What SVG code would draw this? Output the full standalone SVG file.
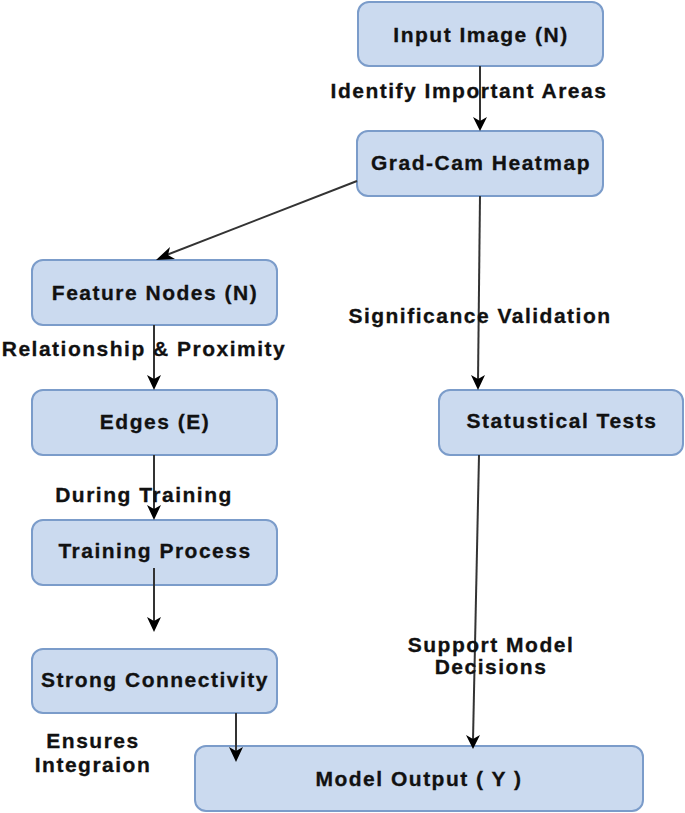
<svg xmlns="http://www.w3.org/2000/svg" width="685" height="813" viewBox="0 0 685 813">
<style>
.box{fill:#cbdaef;stroke:#7b9cca;stroke-width:2}
.t{font-family:"Liberation Sans",Arial,sans-serif;font-weight:bold;font-size:21px;letter-spacing:1.5px;fill:#111;stroke:#111;stroke-width:0.3;text-anchor:middle}
.l{stroke:#333;stroke-width:2;fill:none}
.h{fill:#000}
</style>
<rect width="685" height="813" fill="#fff"/>
<g id="input"><rect class="box" x="358" y="2" width="245" height="64" rx="11"/><text class="t" x="481" y="42">Input Image (N)</text></g>
<g id="gradcam"><rect class="box" x="357" y="131" width="246" height="65" rx="11"/><text class="t" x="481" y="170">Grad-Cam Heatmap</text></g>
<g id="feature"><rect class="box" x="32" y="260" width="245" height="65" rx="11"/><text class="t" x="155" y="300">Feature Nodes (N)</text></g>
<g id="edges"><rect class="box" x="32" y="390" width="245" height="65" rx="11"/><text class="t" x="155" y="429">Edges (E)</text></g>
<g id="training"><rect class="box" x="32" y="520" width="245" height="65" rx="11"/><text class="t" x="155" y="558">Training Process</text></g>
<g id="strong"><rect class="box" x="32" y="649" width="245" height="64" rx="11"/><text class="t" x="155" y="687">Strong Connectivity</text></g>
<g id="stat"><rect class="box" x="439" y="390" width="244" height="65" rx="11"/><text class="t" x="562" y="428">Statustical Tests</text></g>
<g id="output"><rect class="box" x="195" y="746" width="448" height="65" rx="11"/><text class="t" x="419" y="786">Model Output ( Y )</text></g>
<g id="connectors">
<line class="l" x1="480" y1="66" x2="480" y2="122"/>
<path class="h" d="M473,117 L480,131 L487,117 L480,121 z"/>
<line class="l" x1="357" y1="181" x2="164" y2="256"/>
<path class="h" d="M170,247 L156,260 L175,259 L168,255 z"/>
<line class="l" x1="480" y1="196" x2="478" y2="381"/>
<path class="h" d="M471,375 L478,390 L485,375 L478,379 z"/>
<line class="l" x1="154" y1="325" x2="154" y2="381"/>
<path class="h" d="M147,375 L154,390 L161,375 L154,379 z"/>
<line class="l" x1="154" y1="455" x2="154" y2="511"/>
<path class="h" d="M147,505 L154,520 L161,505 L154,509 z"/>
<line class="l" x1="154" y1="568" x2="154" y2="623"/>
<path class="h" d="M147,617 L154,632 L161,617 L154,621 z"/>
<line class="l" x1="236" y1="713" x2="236" y2="753"/>
<path class="h" d="M229,747 L236,762 L243,747 L236,751 z"/>
<line class="l" x1="479" y1="455" x2="473" y2="740"/>
<path class="h" d="M466,735 L473,749 L480,735 L473,739 z"/>
</g>
<g id="labels">
<text class="t" x="469" y="98">Identify Important Areas</text>
<text class="t" x="144" y="356">Relationship &amp; Proximity</text>
<text class="t" x="144" y="502">During Training</text>
<text class="t" x="480" y="323">Significance Validation</text>
<text class="t" x="491" y="652">Support Model</text>
<text class="t" x="491" y="674">Decisions</text>
<text class="t" x="93" y="748">Ensures</text>
<text class="t" x="93" y="772">Integraion</text>
</g>
</svg>
